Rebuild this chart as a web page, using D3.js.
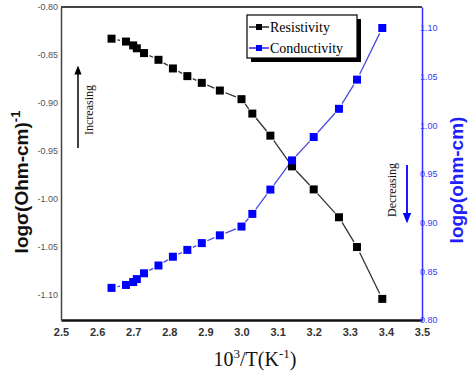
<!DOCTYPE html>
<html>
<head>
<meta charset="utf-8">
<script src="https://cdn.jsdelivr.net/npm/d3@7"></script>
<style>
  body { margin: 0; background: #fff; }
  svg { display: block; }
</style>
</head>
<body>
<div id="chart"></div>
<script>
// data
var invT = [2.64, 2.68, 2.70, 2.71, 2.73, 2.77, 2.81, 2.85, 2.89, 2.94, 3.00, 3.03, 3.08, 3.14, 3.20, 3.27, 3.32, 3.39];
var resistivity = [-0.833, -0.836, -0.840, -0.843, -0.848, -0.855, -0.864, -0.872, -0.879, -0.887, -0.896, -0.911, -0.934, -0.966, -0.990, -1.019, -1.050, -1.104];
var conductivity = [0.833, 0.836, 0.839, 0.842, 0.848, 0.856, 0.865, 0.872, 0.879, 0.887, 0.896, 0.909, 0.934, 0.964, 0.988, 1.017, 1.047, 1.100];
var xTicks = [2.5, 2.6, 2.7, 2.8, 2.9, 3.0, 3.1, 3.2, 3.3, 3.4, 3.5];
var leftTicks = [-0.80, -0.85, -0.90, -0.95, -1.00, -1.05, -1.10];
var rightTicks = [0.80, 0.85, 0.90, 0.95, 1.00, 1.05, 1.10];

var svgWidth = 474, svgHeight = 379;
var margin = { top: 7, right: 52, bottom: 59, left: 61 };
var width = svgWidth - margin.left - margin.right;
var height = svgHeight - margin.top - margin.bottom;

var svg = d3.select("#chart").append("svg")
  .attr("width", svgWidth)
  .attr("height", svgHeight);

var chartGroup = svg.append("g")
  .attr("transform", `translate(${margin.left}, ${margin.top})`);

// scales
var x = d3.scaleLinear().domain([2.5, 3.5]).range([0, width]);
var yLeft = d3.scaleLinear().domain([-1.126, -0.80]).range([height, 0]);
var yRight = d3.scaleLinear().domain([0.80, 1.1216]).range([height, 0]);

// frame: top and left gray, right blue, bottom black thick
chartGroup.append("line")
  .attr("x1", 0).attr("x2", width).attr("y1", 0).attr("y2", 0)
  .attr("stroke", "#444").attr("stroke-width", 2);

// axes (no tick marks, just labels)
var xAxis = d3.axisBottom(x).tickValues(xTicks).tickSize(0).tickPadding(8)
  .tickFormat(d3.format(".1f"));
var gx = chartGroup.append("g")
  .attr("transform", `translate(0, ${height})`)
  .call(xAxis);
gx.select(".domain").attr("stroke", "#111").attr("stroke-width", 2.5);
gx.selectAll("text")
  .style("font-family", "Arial, 'Liberation Sans', sans-serif")
  .style("font-size", "11px")
  .style("font-weight", "bold")
  .attr("fill", "#333");

var yAxisL = d3.axisLeft(yLeft).tickValues(leftTicks).tickSize(0).tickPadding(3)
  .tickFormat(d3.format(".2f"));
var gyl = chartGroup.append("g").call(yAxisL);
gyl.select(".domain").attr("stroke", "#444").attr("stroke-width", 1.5);
gyl.selectAll("text")
  .text(d => d3.format(".2f")(d).replace("−", "-"))
  .style("font-family", "Arial, 'Liberation Sans', sans-serif")
  .style("font-size", "9px")
  .attr("fill", "#555");

var yAxisR = d3.axisRight(yRight).tickValues(rightTicks).tickSize(0).tickPadding(-2)
  .tickFormat(d3.format(".2f"));
var gyr = chartGroup.append("g")
  .attr("transform", `translate(${width}, 0)`)
  .call(yAxisR);
gyr.select(".domain").attr("stroke", "#2f2fff").attr("stroke-width", 1.5);
gyr.selectAll("text")
  .style("font-family", "Arial, 'Liberation Sans', sans-serif")
  .style("font-size", "9px")
  .attr("fill", "#3a3aff");

// lines drawn as segments with a gap near each symbol
function drawSegments(xs, ys, yScale, color, cls) {
  var pts = xs.map((d, i) => [x(d), yScale(ys[i])]);
  var segs = d3.pairs(pts);
  var gap = 6;
  chartGroup.selectAll("line." + cls)
    .data(segs)
    .enter()
    .append("line")
    .classed(cls, true)
    .each(function(s) {
      var dx = s[1][0] - s[0][0], dy = s[1][1] - s[0][1];
      var len = Math.sqrt(dx * dx + dy * dy);
      var g = Math.min(gap, len / 2 - 1);
      var ux = dx / len, uy = dy / len;
      d3.select(this)
        .attr("x1", s[0][0] + ux * g).attr("y1", s[0][1] + uy * g)
        .attr("x2", s[1][0] - ux * g).attr("y2", s[1][1] - uy * g);
    })
    .attr("stroke", color)
    .attr("stroke-width", 1.3);
}

drawSegments(invT, resistivity, yLeft, "#333", "seg-res");
drawSegments(invT, conductivity, yRight, "#4a4ae0", "seg-con");

var sq = 8;
chartGroup.selectAll("rect.res")
  .data(invT)
  .enter()
  .append("rect")
  .classed("res", true)
  .attr("x", (d) => x(d) - sq / 2)
  .attr("y", (d, i) => yLeft(resistivity[i]) - sq / 2)
  .attr("width", sq).attr("height", sq)
  .attr("fill", "#000");

chartGroup.selectAll("rect.con")
  .data(invT)
  .enter()
  .append("rect")
  .classed("con", true)
  .attr("x", (d) => x(d) - sq / 2)
  .attr("y", (d, i) => yRight(conductivity[i]) - sq / 2)
  .attr("width", sq).attr("height", sq)
  .attr("fill", "#0000ff");

// legend
var legend = svg.append("g").attr("transform", "translate(247, 15)");
legend.append("rect")
  .attr("x", 4).attr("y", 4).attr("width", 110).attr("height", 43)
  .attr("fill", "#000");
legend.append("rect")
  .attr("x", 0).attr("y", 0).attr("width", 110).attr("height", 43)
  .attr("fill", "#fff").attr("stroke", "#000").attr("stroke-width", 1.2);
var legendItems = [
  { label: "Resistivity", color: "#000", y: 12 },
  { label: "Conductivity", color: "#0000ff", y: 33 }
];
legendItems.forEach(function(item) {
  legend.append("line")
    .attr("x1", 2).attr("x2", 22).attr("y1", item.y).attr("y2", item.y)
    .attr("stroke", item.color).attr("stroke-width", 1.3);
  legend.append("rect")
    .attr("x", 9).attr("y", item.y - 3).attr("width", 6).attr("height", 6)
    .attr("fill", item.color);
  legend.append("text")
    .attr("x", 23).attr("y", item.y + 5)
    .style("font-family", "'Times New Roman', 'Liberation Serif', serif")
    .style("font-size", "14px")
    .attr("fill", "#000")
    .text(item.label);
});

// axis titles
svg.append("text")
  .attr("transform", "translate(28, 182) rotate(-90)")
  .attr("text-anchor", "middle")
  .style("font-family", "Arial, 'Liberation Sans', sans-serif")
  .style("font-size", "19px")
  .style("font-weight", "bold")
  .attr("fill", "#111")
  .html('log\u03c3(Ohm-cm)<tspan dy="-8" font-size="13px">-1</tspan>');

svg.append("text")
  .attr("transform", "translate(463, 180) rotate(-90)")
  .attr("text-anchor", "middle")
  .style("font-family", "Arial, 'Liberation Sans', sans-serif")
  .style("font-size", "19px")
  .style("font-weight", "bold")
  .attr("fill", "#2020ff")
  .text("log\u03c1(ohm-cm)");

svg.append("text")
  .attr("x", 255).attr("y", 366)
  .attr("text-anchor", "middle")
  .style("font-family", "'Times New Roman', 'Liberation Serif', serif")
  .style("font-size", "20px")
  .attr("fill", "#111")
  .html('10<tspan dy="-8" font-size="13px">3</tspan><tspan dy="8">/T(K</tspan><tspan dy="-8" font-size="13px">-1</tspan><tspan dy="8">)</tspan>');

// arrows and annotations
var defs = svg.append("defs");
defs.append("marker").attr("id", "headBlack")
  .attr("viewBox", "0 0 10 10").attr("refX", 5).attr("refY", 5)
  .attr("markerWidth", 6).attr("markerHeight", 7).attr("orient", "auto")
  .append("path").attr("d", "M0,1 L10,5 L0,9 Z").attr("fill", "#000");
defs.append("marker").attr("id", "headBlue")
  .attr("viewBox", "0 0 10 10").attr("refX", 5).attr("refY", 5)
  .attr("markerWidth", 6).attr("markerHeight", 7).attr("orient", "auto")
  .append("path").attr("d", "M0,1 L10,5 L0,9 Z").attr("fill", "#0000ff");

svg.append("line")
  .attr("x1", 78).attr("y1", 148).attr("x2", 78).attr("y2", 70)
  .attr("stroke", "#000").attr("stroke-width", 1.5)
  .attr("marker-end", "url(#headBlack)");
svg.append("text")
  .attr("transform", "translate(93, 110) rotate(-90)")
  .attr("text-anchor", "middle")
  .style("font-family", "'Times New Roman', 'Liberation Serif', serif")
  .style("font-size", "12px")
  .attr("fill", "#111")
  .text("Increasing");

svg.append("line")
  .attr("x1", 407).attr("y1", 165).attr("x2", 407).attr("y2", 218)
  .attr("stroke", "#0000ff").attr("stroke-width", 1.8)
  .attr("marker-end", "url(#headBlue)");
svg.append("text")
  .attr("transform", "translate(396, 190) rotate(-90)")
  .attr("text-anchor", "middle")
  .style("font-family", "'Times New Roman', 'Liberation Serif', serif")
  .style("font-size", "12px")
  .attr("fill", "#111")
  .text("Decreasing");
</script>
</body>
</html>
